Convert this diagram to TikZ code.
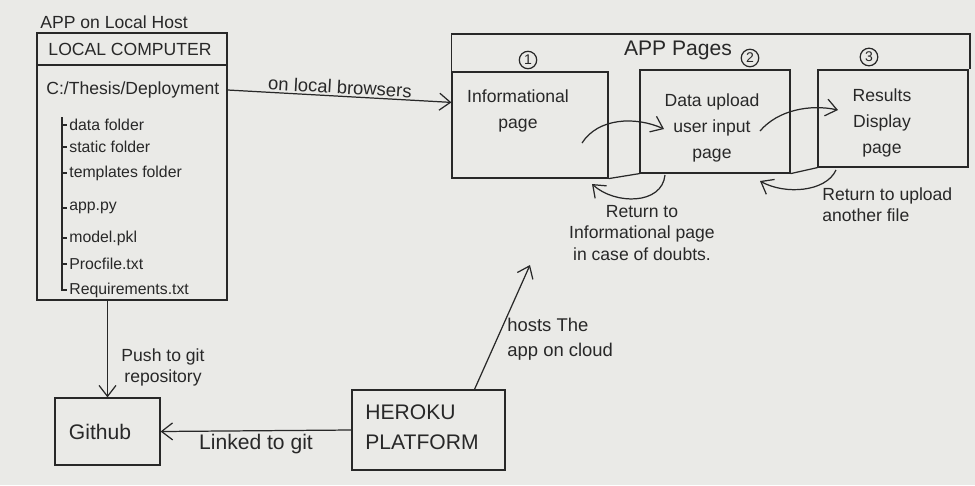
\documentclass[tikz,border=0pt]{standalone}
\usepackage{fontspec}
\setmainfont{Liberation Sans}
\usetikzlibrary{positioning, arrows.meta, calc}
\definecolor{PaperGray}{RGB}{234,234,231}
\definecolor{InkGray}{RGB}{40,40,40}

\begin{document}
\begin{tikzpicture}[x=0.02cm, y=-0.02cm, line width=0.7pt, draw=InkGray, text=InkGray,
    >={Straight Barb[length=2.2mm, width=3.4mm]},
    plainbox/.style={draw, minimum width=#1, inner sep=0pt},
    handtext/.style={font={\fontsize{10}{15}\selectfont}, align=center, inner sep=1pt},
    treeitem/.style={font={\fontsize{9}{10}\selectfont}, anchor=west, inner sep=1pt},
    pagenum/.style={circle, draw, inner sep=1pt, font=\footnotesize}]

    % Paper
    \fill[PaperGray] (0,0) rectangle (975,485);

    % Local computer
    \node[plainbox=3.8cm, minimum height=5.34cm] (localbox) at (132,166.5) {};
    \draw (localbox.west |- 0,65) -- (localbox.east |- 0,65);
    \node[handtext, anchor=south west] (hosttitle) at (38,31) {APP on Local Host};
    \node[handtext] (localtitle) at (130,49) {LOCAL COMPUTER};
    \node[handtext, anchor=west] (deploy) at (44,90) {C:/Thesis/Deployment};

    % Folder tree
    \coordinate (treetop) at (62,117);
    \foreach \name/\txt/\y in {dfold/data folder/125, sfold/static folder/147,
        tfold/templates folder/173, apppy/app.py/208, mpkl/model.pkl/238,
        procf/Procfile.txt/264, reqs/Requirements.txt/290} {
      \node[treeitem] (\name) at (67,\y) {\txt};
      \draw (treetop) |- (\name.west);
    }

    % App pages
    \node[plainbox=3.12cm, minimum height=2.12cm] (info) at (530,125) {};
    \node[plainbox=3.0cm, minimum height=2.06cm] (upload) at (715,121.5) {};
    \node[plainbox=3.0cm, minimum height=1.94cm] (results) at (893,118.5) {};
    \coordinate (frameNE) at (970,34);
    \draw (info.north west) |- (frameNE) -- (frameNE |- results.north);
    \draw (info.south east) -- (upload.south west);
    \draw (upload.south east) -- (results.south west);

    \node[handtext, font=\large] (apptitle) at (678,50) {APP Pages};
    \node[pagenum] (num1) at (528,60) {1};
    \node[pagenum] (num2) at (750,58) {2};
    \node[pagenum] (num3) at (869,57) {3};

    \node[handtext] (infotext) at (518,111) {Informational\\page};
    \node[handtext] (uploadtext) at (712,128) {Data upload\\user input\\page};
    \node[handtext] (resultstext) at (882,123) {Results\\Display\\page};

    % Page flow
    \coordinate (fwd1a) at (582,143);
    \coordinate (fwd1b) at (664,129);
    \coordinate (fwd2a) at (760,131);
    \coordinate (fwd2b) at (838,110);
    \coordinate (back1a) at (665,175);
    \coordinate (back1b) at (592,184);
    \coordinate (back2a) at (836,170);
    \coordinate (back2b) at (760,181);
    \draw[->] (fwd1a) .. controls (598,118) and (635,116) .. (fwd1b);
    \draw[->] (fwd2a) .. controls (778,110) and (810,104) .. (fwd2b);
    \draw[->] (back1a) .. controls (662,205) and (615,205) .. (back1b);
    \draw[->] (back2a) .. controls (826,192) and (785,195) .. (back2b);

    \node[handtext, font={\fontsize{10}{12.5}\selectfont}] (backinfo) at (642,233)
      {Return to\\Informational page\\in case of doubts.};
    \node[handtext, align=left, anchor=west, font={\fontsize{10}{12}\selectfont}] (backupload)
      at (820,205) {Return to upload\\ another file};

    % Hosting
    \node[plainbox=2.1cm, minimum height=1.34cm] (github) at (107.5,431.5) {};
    \node[handtext, font=\large] (githubtext) at (100,432) {Github};
    \node[plainbox=3.06cm, minimum height=1.6cm] (heroku) at (428.5,430) {};
    \node[handtext, align=left, font={\fontsize{12}{17}\selectfont}] (herokutext) at (422,427)
      {HEROKU\\PLATFORM};
    \coordinate (hostfoot) at ($(heroku.north)+(46,0)$);
    \coordinate (hosttip) at (530,265);

    % Connectors
    \draw[->] (localbox.east |- deploy) -- ($(info.north west)+(0,31)$)
      node[midway, above, sloped, handtext, font=\fontsize{10.5}{12}\selectfont] (browser) {on local browsers};
    \draw[->] (github.north |- localbox.south) -- (github.north);
    \node[handtext, font={\fontsize{10}{12}\selectfont}] (pushtext) at (163,367) {Push to git\\repository};
    \draw[->] (heroku.west) -- (github.east);
    \node[handtext, font=\large] (linktext) at (256,444) {Linked to git};
    \draw[->] (hostfoot) -- (hosttip);
    \node[handtext, align=left, anchor=west, font={\fontsize{10.5}{14}\selectfont}] (hosttext)
      at (505,339) {hosts The\\app on cloud};
\end{tikzpicture}
\end{document}
